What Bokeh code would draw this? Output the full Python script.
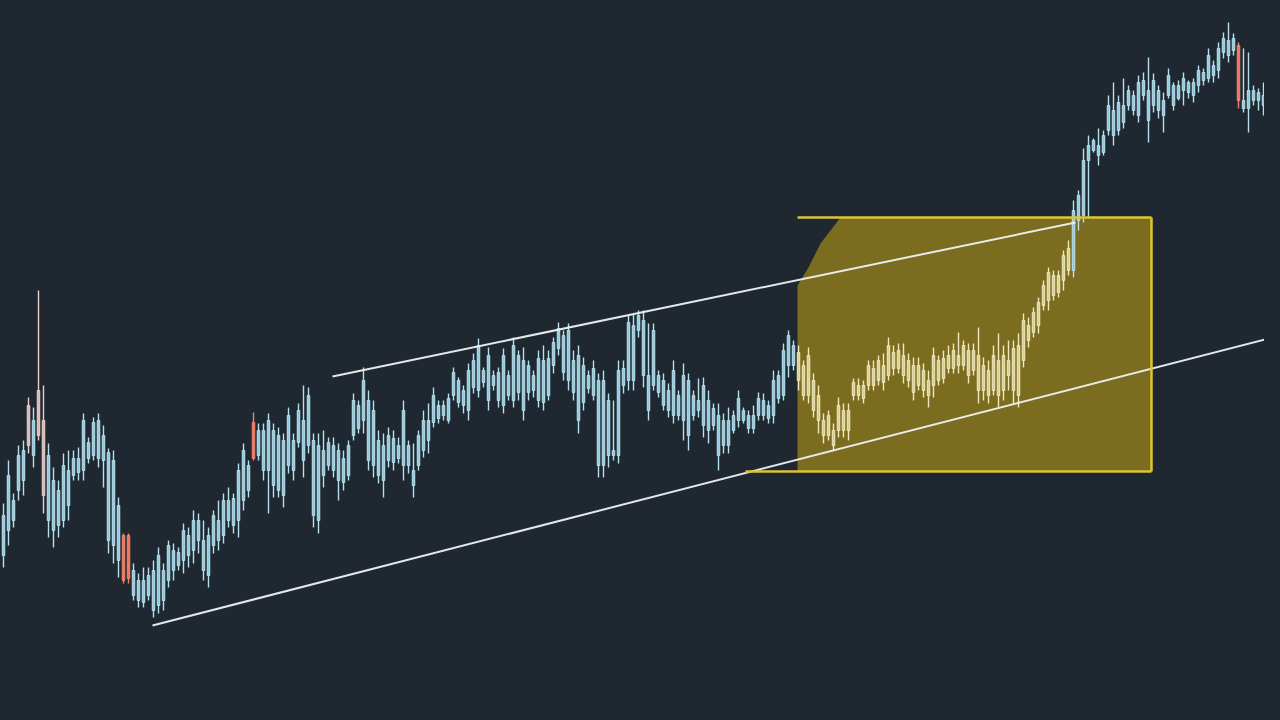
from bokeh.plotting import figure
from bokeh.models import Range1d
from bokeh.embed import file_html
from bokeh.resources import INLINE

# ---- data (price units; one value per bar) ----
high = [
217,260,227,275,280,323,313,430,335,277,
253,240,267,270,270,273,307,283,303,307,
295,272,270,223,187,187,157,147,153,153,
160,173,157,180,177,173,197,193,210,207,
200,193,210,220,227,233,227,257,277,260,
308,297,297,307,297,293,287,313,287,317,
335,333,287,287,290,283,283,277,270,280,
327,320,353,330,320,290,287,293,290,283,
320,280,277,290,310,317,333,320,320,327,
353,343,335,357,367,382,353,373,350,353,
372,350,383,370,373,360,350,370,375,370,
383,398,390,397,370,375,363,350,360,347,
350,327,320,360,360,405,407,410,410,397,
397,350,347,337,360,330,357,347,330,342,
343,330,317,317,307,313,310,330,313,310,
315,328,327,320,350,350,377,390,380,375,
360,373,347,335,307,310,297,323,317,317,
342,342,340,360,360,365,367,383,375,377,
377,367,363,363,357,350,373,365,370,375,
377,388,380,377,377,393,363,360,375,387,
375,380,380,387,407,403,413,423,440,453,
450,450,470,480,520,530,572,585,582,592,
590,625,638,625,642,635,630,645,648,663,
647,635,628,652,638,640,648,640,642,655,
652,672,660,678,688,698,687,678,672,668,
635,632,638,628,638,582]

low = [
153,175,193,220,225,267,253,280,207,183,
173,183,193,200,240,240,240,257,260,253,
233,167,157,143,137,137,120,113,113,120,
103,107,110,133,140,150,147,153,157,167,
140,133,167,170,177,193,187,183,210,223,
260,260,240,207,223,223,213,247,240,273,
243,267,193,187,233,250,243,220,230,240,
280,287,287,250,243,237,223,253,250,257,
240,247,223,250,263,267,293,297,300,297,
320,313,307,300,327,323,333,310,330,313,
307,320,313,320,300,320,323,313,310,320,
347,365,340,330,320,287,310,327,320,243,
243,253,260,257,327,330,330,383,333,300,
330,323,310,303,297,300,280,270,300,303,
283,277,290,250,267,267,287,293,297,287,
287,300,300,297,297,317,320,343,350,330,
320,317,303,287,277,280,270,283,283,280,
320,320,317,330,330,335,330,340,345,347,
337,333,320,330,323,313,323,335,337,347,
347,347,350,337,345,317,320,317,325,313,
320,330,317,313,353,373,383,387,410,410,
420,423,430,445,443,490,498,502,568,555,
565,585,575,585,592,610,605,598,620,578,
608,602,588,622,610,620,615,622,618,628,
635,638,638,642,662,658,665,612,608,588,
615,610,605,555,542,560]

open_ = [
165,190,220,230,270,275,300,285,300,265,
190,230,200,250,245,262,250,278,265,300,
260,268,260,215,185,185,150,120,140,125,
110,115,150,140,170,155,160,185,170,200,
180,145,175,200,185,220,195,200,220,255,
298,265,290,250,290,230,280,255,280,278,
300,275,280,200,270,255,275,240,262,245,
285,315,300,320,255,280,240,285,258,275,
255,275,250,255,270,300,298,315,305,300,
325,340,315,310,360,330,350,320,345,320,
365,325,320,365,310,355,330,320,360,325,
355,372,385,340,360,365,318,345,325,340,
255,320,270,265,335,340,395,390,400,345,
335,345,315,330,305,325,300,340,305,320,
295,320,295,305,275,300,290,300,310,292,
305,305,320,302,305,345,325,355,375,340,
355,325,340,300,300,285,290,290,310,290,
325,335,322,335,352,340,355,345,368,352,
365,340,355,335,350,325,335,360,342,365,
352,365,355,370,350,365,330,350,330,360,
330,360,330,375,360,395,388,395,415,420,
445,428,440,450,450,500,505,560,570,575,
568,590,610,590,615,615,625,605,640,630,
615,630,605,625,635,622,630,638,625,635,
648,642,655,650,668,680,670,675,620,612,
630,620,625,615,560,575]

close = [
205,245,200,265,240,315,265,330,225,200,
240,195,255,215,262,248,300,262,298,262,
285,180,175,160,140,142,125,140,118,145,
150,165,120,175,150,168,190,165,200,180,
150,185,205,180,220,200,222,250,270,230,
262,290,250,300,235,285,225,305,250,310,
260,325,205,275,245,278,250,270,238,275,
320,292,340,260,310,245,275,260,282,262,
310,255,235,285,300,280,325,302,315,322,
348,318,330,350,333,375,338,365,335,348,
315,345,375,328,360,328,345,362,318,362,
378,392,348,390,328,300,355,332,352,255,
340,265,265,350,352,398,340,405,345,310,
390,328,340,310,350,305,345,285,325,310,
335,290,312,265,300,275,305,322,300,305,
292,322,305,315,340,322,370,385,355,368,
325,365,310,325,285,305,275,315,290,310,
338,325,335,355,335,360,338,375,352,370,
345,360,328,355,330,340,365,340,362,352,
370,355,375,345,370,330,355,325,365,325,
365,345,372,325,400,380,408,418,435,448,
425,445,465,472,510,525,560,575,580,565,
585,615,585,618,598,630,610,638,625,600,
640,610,620,645,615,635,642,628,638,650,
640,665,645,672,682,665,682,620,612,630,
620,628,615,570,630,565]

red_bars = [24, 25, 50, 247]
pale_bars = [5, 7, 8]

# trend lines (bar index, price)
upper_x = [65.8, 214.4]
upper_y = [344, 498]
lower_x = [29.8, 255.4]
lower_y = [95, 385]

# highlighted zone (bar index, price)
zone_left, zone_right = 158.8, 229.6
zone_top, zone_bottom = 503, 249
zone_base_start = 148.4
notch_x = [167.4, 163.4, 161.0, 158.8]
notch_y = [503, 477, 453, 435]

# ---- figure ----
BG = "#1f2730"
p = figure(width=1264, height=704, output_backend="svg", toolbar_location=None,
           x_range=Range1d(-0.6, 252.2), y_range=Range1d(16, 720),
           background_fill_color=BG, border_fill_color=BG,
           min_border=0, outline_line_color=None)
p.axis.visible = False
p.grid.visible = False

# zone fill (under the bars), notched top-left corner
zx = [zone_left, zone_right, zone_right] + notch_x + [zone_left]
zy = [zone_bottom, zone_bottom, zone_top] + notch_y + [zone_bottom]
p.patch(zx, zy, fill_color="#7b6c1f", fill_alpha=1.0, line_color=None)

n = len(high)
idx = list(range(n))
body_top = [max(o, c) for o, c in zip(open_, close)]
body_bot = [min(o, c) for o, c in zip(open_, close)]
colors = []
fills = []
for i in idx:
    if i in red_bars:
        colors.append("#f2836b"); fills.append("#ec7a62")
    elif i in pale_bars:
        colors.append("#ead0cc"); fills.append("#d9b9b6")
    elif zone_left <= i <= zone_right and high[i] <= zone_top:
        colors.append("#f0e8bc"); fills.append("#d8cf98")
    else:
        colors.append("#b6e0ec"); fills.append("#92c9dc")

p.segment(x0=idx, y0=low, x1=idx, y1=high, line_color=colors, line_width=1.4)
p.vbar(x=idx, top=body_top, bottom=body_bot, width=0.5,
       fill_color=fills, line_color=colors, line_width=1)

# trend lines
p.line(upper_x, upper_y, line_color="#eef2f2", line_width=2, line_alpha=0.95)
p.line(lower_x, lower_y, line_color="#eef2f2", line_width=2, line_alpha=0.95)

# zone borders
p.line([zone_left, zone_right], [zone_top, zone_top], line_color="#dcc634", line_width=2.5)
p.line([zone_base_start, zone_right], [zone_bottom, zone_bottom], line_color="#dcc634", line_width=2.5)
p.line([zone_right, zone_right], [zone_bottom, zone_top], line_color="#dcc634", line_width=2.5)

html = file_html(p, INLINE, title="chart")
html = html.replace("</head>", "<style>html,body{background:#1f2730;}</style></head>", 1)
open("out.html", "w").write(html)
